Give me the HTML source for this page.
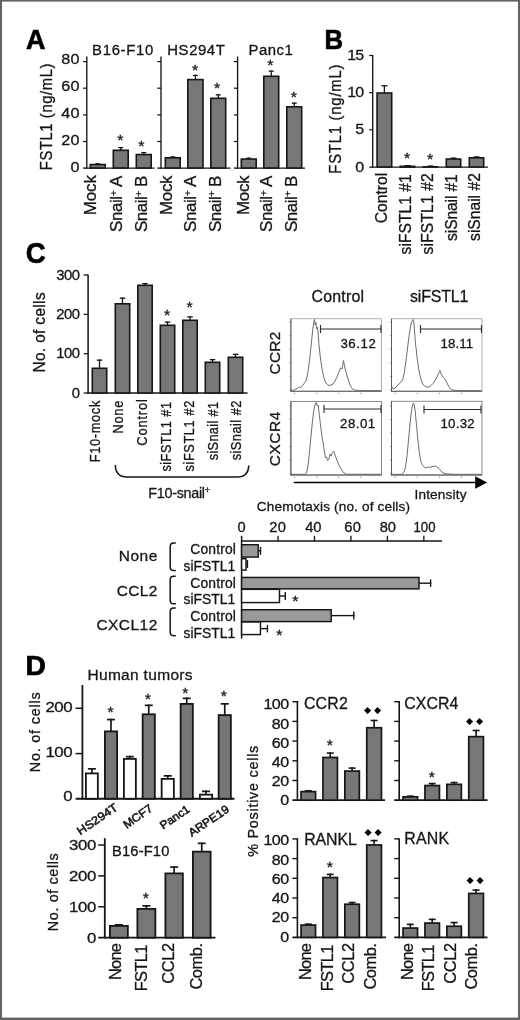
<!DOCTYPE html>
<html lang="en">
<head>
<meta charset="utf-8">
<title>Figure</title>
<style>
html,body{margin:0;padding:0;background:#fff;}
body{width:520px;height:1020px;overflow:hidden;}
svg{display:block;font-family:"Liberation Sans",Arial,Helvetica,sans-serif;}
</style>
</head>
<body>
<svg width="520" height="1020" viewBox="0 0 520 1020">
<rect x="0" y="0" width="520" height="1020" fill="#ffffff"/>
<rect x="0" y="0" width="520" height="1.6" fill="#636363"/>
<rect x="0" y="0" width="2" height="1020" fill="#636363"/>
<rect x="518" y="0" width="2" height="1020" fill="#636363"/>
<rect x="0" y="1017.6" width="520" height="2.4" fill="#636363"/>
<text transform="translate(26.05,48.6) scale(0.960,1)" font-size="28.05" font-weight="bold" stroke="#000" stroke-width="0.7" fill="#000">A</text>
<text transform="translate(324.5,48.75) scale(0.914,1)" font-size="28.13" font-weight="bold" stroke="#000" stroke-width="0.7" fill="#000">B</text>
<text transform="translate(25.87,263.2) scale(0.933,1)" font-size="29.51" font-weight="bold" stroke="#000" stroke-width="0.7" fill="#000">C</text>
<text transform="translate(25.43,674.7) scale(1.035,1)" font-size="27.33" font-weight="bold" stroke="#000" stroke-width="0.7" fill="#000">D</text>
<line x1="86.8" y1="56.5" x2="86.8" y2="168.7" stroke="#161616" stroke-width="1.35"/>
<line x1="86.2" y1="168.1" x2="154.5" y2="168.1" stroke="#161616" stroke-width="1.4"/>
<line x1="83.1" y1="61.6" x2="86.8" y2="61.6" stroke="#161616" stroke-width="1.25"/>
<line x1="83.1" y1="88.2" x2="86.8" y2="88.2" stroke="#161616" stroke-width="1.25"/>
<line x1="83.1" y1="114.9" x2="86.8" y2="114.9" stroke="#161616" stroke-width="1.25"/>
<line x1="83.1" y1="141.5" x2="86.8" y2="141.5" stroke="#161616" stroke-width="1.25"/>
<line x1="83.1" y1="168.1" x2="86.8" y2="168.1" stroke="#161616" stroke-width="1.4"/>
<line x1="161" y1="56.5" x2="161" y2="168.7" stroke="#161616" stroke-width="1.35"/>
<line x1="160.4" y1="168.1" x2="230.5" y2="168.1" stroke="#161616" stroke-width="1.4"/>
<line x1="157.3" y1="61.6" x2="161" y2="61.6" stroke="#161616" stroke-width="1.25"/>
<line x1="157.3" y1="88.2" x2="161" y2="88.2" stroke="#161616" stroke-width="1.25"/>
<line x1="157.3" y1="114.9" x2="161" y2="114.9" stroke="#161616" stroke-width="1.25"/>
<line x1="157.3" y1="141.5" x2="161" y2="141.5" stroke="#161616" stroke-width="1.25"/>
<line x1="157.3" y1="168.1" x2="161" y2="168.1" stroke="#161616" stroke-width="1.4"/>
<line x1="237.6" y1="56.5" x2="237.6" y2="168.7" stroke="#161616" stroke-width="1.35"/>
<line x1="237" y1="168.1" x2="305" y2="168.1" stroke="#161616" stroke-width="1.4"/>
<line x1="233.9" y1="61.6" x2="237.6" y2="61.6" stroke="#161616" stroke-width="1.25"/>
<line x1="233.9" y1="88.2" x2="237.6" y2="88.2" stroke="#161616" stroke-width="1.25"/>
<line x1="233.9" y1="114.9" x2="237.6" y2="114.9" stroke="#161616" stroke-width="1.25"/>
<line x1="233.9" y1="141.5" x2="237.6" y2="141.5" stroke="#161616" stroke-width="1.25"/>
<line x1="233.9" y1="168.1" x2="237.6" y2="168.1" stroke="#161616" stroke-width="1.4"/>
<text transform="translate(61.33,64.27) scale(1.070,1)" x="0 8.6" font-size="15.1" fill="#161616" stroke="#161616" stroke-width="0.3">80</text>
<text transform="translate(61.33,91.27) scale(1.070,1)" x="0 8.6" font-size="15.1" fill="#161616" stroke="#161616" stroke-width="0.3">60</text>
<text transform="translate(61.33,118.27) scale(1.070,1)" x="0 8.6" font-size="15.1" fill="#161616" stroke="#161616" stroke-width="0.3">40</text>
<text transform="translate(61.33,145.27) scale(1.070,1)" x="0 8.6" font-size="15.1" fill="#161616" stroke="#161616" stroke-width="0.3">20</text>
<text transform="translate(70.53,172.07) scale(1.070,1)" x="0" font-size="15.1" fill="#161616" stroke="#161616" stroke-width="0.3">0</text>
<text transform="translate(52.3,170.21) rotate(-90) scale(0.930,1)" font-size="15.9" fill="#161616" stroke="#161616" stroke-width="0.3" letter-spacing="0.65">FSTL1 (ng/mL)</text>
<text transform="translate(92.08,55.2) scale(1.000,1)" font-size="14.9" stroke="#161616" stroke-width="0.3" letter-spacing="0.67" fill="#161616">B16-F10</text>
<text transform="translate(167.28,55.2) scale(1.000,1)" font-size="14.9" stroke="#161616" stroke-width="0.3" letter-spacing="0.58" fill="#161616">HS294T</text>
<text transform="translate(248.58,55.2) scale(1.000,1)" font-size="14.9" stroke="#161616" stroke-width="0.3" letter-spacing="0.47" fill="#161616">Panc1</text>
<line x1="97.75" y1="164.25" x2="97.75" y2="163.2" stroke="#161616" stroke-width="1.3"/>
<line x1="95.25" y1="163.85" x2="100.25" y2="163.85" stroke="#161616" stroke-width="1.3"/>
<rect x="90.3" y="164.55" width="14.9" height="3.45" fill="#777777" stroke="#161616" stroke-width="1.6"/>
<line x1="120.75" y1="150" x2="120.75" y2="147" stroke="#161616" stroke-width="1.3"/>
<line x1="118.25" y1="147.65" x2="123.25" y2="147.65" stroke="#161616" stroke-width="1.3"/>
<rect x="113.3" y="150.3" width="14.9" height="17.7" fill="#777777" stroke="#161616" stroke-width="1.6"/>
<text transform="translate(117.25,144.99) scale(1.075,1)" font-size="14.81" stroke="#161616" stroke-width="0.3" fill="#161616">*</text>
<line x1="143.75" y1="154.25" x2="143.75" y2="152" stroke="#161616" stroke-width="1.3"/>
<line x1="141.25" y1="152.65" x2="146.25" y2="152.65" stroke="#161616" stroke-width="1.3"/>
<rect x="136.3" y="154.55" width="14.9" height="13.45" fill="#777777" stroke="#161616" stroke-width="1.6"/>
<text transform="translate(138.25,151.19) scale(1.075,1)" font-size="14.81" stroke="#161616" stroke-width="0.3" fill="#161616">*</text>
<line x1="172.75" y1="157.5" x2="172.75" y2="156.3" stroke="#161616" stroke-width="1.3"/>
<line x1="170.25" y1="156.95" x2="175.25" y2="156.95" stroke="#161616" stroke-width="1.3"/>
<rect x="165.3" y="157.8" width="14.9" height="10.2" fill="#777777" stroke="#161616" stroke-width="1.6"/>
<line x1="195.4" y1="79.3" x2="195.4" y2="74.8" stroke="#161616" stroke-width="1.3"/>
<line x1="192.9" y1="75.45" x2="197.9" y2="75.45" stroke="#161616" stroke-width="1.3"/>
<rect x="187.8" y="79.6" width="15.2" height="88.4" fill="#777777" stroke="#161616" stroke-width="1.6"/>
<text transform="translate(191.9,74.99) scale(1.075,1)" font-size="14.81" stroke="#161616" stroke-width="0.3" fill="#161616">*</text>
<line x1="218.25" y1="98" x2="218.25" y2="94.2" stroke="#161616" stroke-width="1.3"/>
<line x1="215.75" y1="94.85" x2="220.75" y2="94.85" stroke="#161616" stroke-width="1.3"/>
<rect x="210.8" y="98.3" width="14.9" height="69.7" fill="#777777" stroke="#161616" stroke-width="1.6"/>
<text transform="translate(213.95,93.09) scale(1.075,1)" font-size="14.81" stroke="#161616" stroke-width="0.3" fill="#161616">*</text>
<line x1="248.75" y1="158.75" x2="248.75" y2="157.6" stroke="#161616" stroke-width="1.3"/>
<line x1="246.25" y1="158.25" x2="251.25" y2="158.25" stroke="#161616" stroke-width="1.3"/>
<rect x="241.3" y="159.05" width="14.9" height="8.95" fill="#777777" stroke="#161616" stroke-width="1.6"/>
<line x1="271.25" y1="76" x2="271.25" y2="70.5" stroke="#161616" stroke-width="1.3"/>
<line x1="268.75" y1="71.15" x2="273.75" y2="71.15" stroke="#161616" stroke-width="1.3"/>
<rect x="263.8" y="76.3" width="14.9" height="91.7" fill="#777777" stroke="#161616" stroke-width="1.6"/>
<text transform="translate(267.25,70.49) scale(1.075,1)" font-size="14.81" stroke="#161616" stroke-width="0.3" fill="#161616">*</text>
<line x1="294.25" y1="106.5" x2="294.25" y2="102.5" stroke="#161616" stroke-width="1.3"/>
<line x1="291.75" y1="103.15" x2="296.75" y2="103.15" stroke="#161616" stroke-width="1.3"/>
<rect x="286.8" y="106.8" width="14.9" height="61.2" fill="#777777" stroke="#161616" stroke-width="1.6"/>
<text transform="translate(290.75,101.99) scale(1.075,1)" font-size="14.81" stroke="#161616" stroke-width="0.3" fill="#161616">*</text>
<text transform="translate(96.45,215.14) rotate(-90) scale(1.060,1)" font-size="16" fill="#161616" stroke="#161616" stroke-width="0.3" letter-spacing="-0.13">Mock</text>
<text transform="translate(121.95,232.01) rotate(-90) scale(1.060,1)" font-size="16" fill="#161616" stroke="#161616" stroke-width="0.3" letter-spacing="-0.36">Snail<tspan font-size="9.92" dy="-5.28">+</tspan><tspan dy="5.28"> A</tspan></text>
<text transform="translate(147.2,232.01) rotate(-90) scale(1.060,1)" font-size="16" fill="#161616" stroke="#161616" stroke-width="0.3" letter-spacing="-0.47">Snail<tspan font-size="9.92" dy="-5.28">+</tspan><tspan dy="5.28"> B</tspan></text>
<text transform="translate(171.7,214.89) rotate(-90) scale(1.060,1)" font-size="16" fill="#161616" stroke="#161616" stroke-width="0.3" letter-spacing="-0.36">Mock</text>
<text transform="translate(196.2,232.01) rotate(-90) scale(1.060,1)" font-size="16" fill="#161616" stroke="#161616" stroke-width="0.3" letter-spacing="-0.36">Snail<tspan font-size="9.92" dy="-5.28">+</tspan><tspan dy="5.28"> A</tspan></text>
<text transform="translate(220.7,232.01) rotate(-90) scale(1.060,1)" font-size="16" fill="#161616" stroke="#161616" stroke-width="0.3" letter-spacing="-0.47">Snail<tspan font-size="9.92" dy="-5.28">+</tspan><tspan dy="5.28"> B</tspan></text>
<text transform="translate(248.7,214.89) rotate(-90) scale(1.060,1)" font-size="16" fill="#161616" stroke="#161616" stroke-width="0.3" letter-spacing="-0.36">Mock</text>
<text transform="translate(272.2,232.01) rotate(-90) scale(1.060,1)" font-size="16" fill="#161616" stroke="#161616" stroke-width="0.3" letter-spacing="-0.36">Snail<tspan font-size="9.92" dy="-5.28">+</tspan><tspan dy="5.28"> A</tspan></text>
<text transform="translate(296.7,232.01) rotate(-90) scale(1.060,1)" font-size="16" fill="#161616" stroke="#161616" stroke-width="0.3" letter-spacing="-0.47">Snail<tspan font-size="9.92" dy="-5.28">+</tspan><tspan dy="5.28"> B</tspan></text>
<line x1="372.7" y1="55" x2="372.7" y2="167.7" stroke="#161616" stroke-width="1.35"/>
<line x1="369.2" y1="167.1" x2="488" y2="167.1" stroke="#161616" stroke-width="1.4"/>
<line x1="369.2" y1="55.5" x2="372.7" y2="55.5" stroke="#161616" stroke-width="1.25"/>
<line x1="369.2" y1="92.7" x2="372.7" y2="92.7" stroke="#161616" stroke-width="1.25"/>
<line x1="369.2" y1="129.8" x2="372.7" y2="129.8" stroke="#161616" stroke-width="1.25"/>
<text transform="translate(347.26,60.17) scale(1.060,1)" x="0 7.64" font-size="15.1" fill="#161616" stroke="#161616" stroke-width="0.3">15</text>
<text transform="translate(347.21,97.37) scale(1.060,1)" x="0 7.64" font-size="15.1" fill="#161616" stroke="#161616" stroke-width="0.3">10</text>
<text transform="translate(355.36,134.47) scale(1.060,1)" x="0" font-size="15.1" fill="#161616" stroke="#161616" stroke-width="0.3">5</text>
<text transform="translate(355.31,171.67) scale(1.060,1)" x="0" font-size="15.1" fill="#161616" stroke="#161616" stroke-width="0.3">0</text>
<text transform="translate(340.6,173.71) rotate(-90) scale(0.930,1)" font-size="15.9" fill="#161616" stroke="#161616" stroke-width="0.3" letter-spacing="0.87">FSTL1 (ng/mL)</text>
<line x1="384.4" y1="92.7" x2="384.4" y2="85.2" stroke="#161616" stroke-width="1.3"/>
<line x1="381.4" y1="85.85" x2="387.4" y2="85.85" stroke="#161616" stroke-width="1.3"/>
<rect x="377.1" y="93" width="14.6" height="74" fill="#777777" stroke="#161616" stroke-width="1.6"/>
<line x1="407.5" y1="166" x2="407.5" y2="165" stroke="#161616" stroke-width="1.3"/>
<line x1="404.5" y1="165.65" x2="410.5" y2="165.65" stroke="#161616" stroke-width="1.3"/>
<rect x="400.3" y="166.3" width="14.4" height="0.7" fill="#777777" stroke="#161616" stroke-width="1.6"/>
<text transform="translate(404,163.09) scale(1.075,1)" font-size="14.81" stroke="#161616" stroke-width="0.3" fill="#161616">*</text>
<line x1="430.5" y1="166.5" x2="430.5" y2="165.5" stroke="#161616" stroke-width="1.3"/>
<line x1="427.5" y1="166.15" x2="433.5" y2="166.15" stroke="#161616" stroke-width="1.3"/>
<rect x="423.3" y="166.8" width="14.4" height="0.2" fill="#777777" stroke="#161616" stroke-width="1.6"/>
<text transform="translate(427,164.29) scale(1.075,1)" font-size="14.81" stroke="#161616" stroke-width="0.3" fill="#161616">*</text>
<line x1="453.5" y1="158.75" x2="453.5" y2="157.5" stroke="#161616" stroke-width="1.3"/>
<line x1="450.5" y1="158.15" x2="456.5" y2="158.15" stroke="#161616" stroke-width="1.3"/>
<rect x="446.3" y="159.05" width="14.4" height="7.95" fill="#777777" stroke="#161616" stroke-width="1.6"/>
<line x1="476.5" y1="157.5" x2="476.5" y2="156.3" stroke="#161616" stroke-width="1.3"/>
<line x1="473.5" y1="156.95" x2="479.5" y2="156.95" stroke="#161616" stroke-width="1.3"/>
<rect x="469.3" y="157.8" width="14.4" height="9.2" fill="#777777" stroke="#161616" stroke-width="1.6"/>
<text transform="translate(387,223.28) rotate(-90) scale(0.980,1)" font-size="15.9" fill="#161616" stroke="#161616" stroke-width="0.3" letter-spacing="0.06">Control</text>
<text transform="translate(411.4,254.42) rotate(-90) scale(0.980,1)" font-size="15.9" fill="#161616" stroke="#161616" stroke-width="0.3" letter-spacing="0.06">siFSTL1 #1</text>
<text transform="translate(433.4,254.42) rotate(-90) scale(0.980,1)" font-size="15.9" fill="#161616" stroke="#161616" stroke-width="0.3" letter-spacing="0.17">siFSTL1 #2</text>
<text transform="translate(456.5,240.92) rotate(-90) scale(0.980,1)" font-size="15.9" fill="#161616" stroke="#161616" stroke-width="0.3" letter-spacing="-0.1">siSnail #1</text>
<text transform="translate(479.5,240.92) rotate(-90) scale(0.980,1)" font-size="15.9" fill="#161616" stroke="#161616" stroke-width="0.3" letter-spacing="0.02">siSnail #2</text>
<line x1="88.1" y1="274.4" x2="88.1" y2="393.7" stroke="#161616" stroke-width="1.5"/>
<line x1="87.4" y1="393" x2="247.5" y2="393" stroke="#161616" stroke-width="1.5"/>
<line x1="83.7" y1="275" x2="88" y2="275" stroke="#161616" stroke-width="1.3"/>
<line x1="83.7" y1="314.4" x2="88" y2="314.4" stroke="#161616" stroke-width="1.3"/>
<line x1="83.7" y1="353.7" x2="88" y2="353.7" stroke="#161616" stroke-width="1.3"/>
<line x1="83.7" y1="393" x2="88" y2="393" stroke="#161616" stroke-width="1.3"/>
<text transform="translate(56.31,279.59) scale(1.060,1)" x="0 7.26 14.53" font-size="14" fill="#161616" stroke="#161616" stroke-width="0.3">300</text>
<text transform="translate(56.31,318.99) scale(1.060,1)" x="0 7.26 14.53" font-size="14" fill="#161616" stroke="#161616" stroke-width="0.3">200</text>
<text transform="translate(56.31,358.29) scale(1.060,1)" x="0 7.26 14.53" font-size="14" fill="#161616" stroke="#161616" stroke-width="0.3">100</text>
<text transform="translate(71.71,397.59) scale(1.060,1)" x="0" font-size="14" fill="#161616" stroke="#161616" stroke-width="0.3">0</text>
<text transform="translate(45.2,372.57) rotate(-90) scale(0.930,1)" font-size="16.6" fill="#161616" stroke="#161616" stroke-width="0.3" letter-spacing="0.38">No. of cells</text>
<line x1="99.5" y1="368" x2="99.5" y2="359.5" stroke="#161616" stroke-width="1.3"/>
<line x1="96.75" y1="360.15" x2="102.25" y2="360.15" stroke="#161616" stroke-width="1.3"/>
<rect x="92.3" y="368.3" width="14.4" height="24.7" fill="#777777" stroke="#161616" stroke-width="1.6"/>
<line x1="122.5" y1="303.5" x2="122.5" y2="297.5" stroke="#161616" stroke-width="1.3"/>
<line x1="119.75" y1="298.15" x2="125.25" y2="298.15" stroke="#161616" stroke-width="1.3"/>
<rect x="115.3" y="303.8" width="14.4" height="89.2" fill="#777777" stroke="#161616" stroke-width="1.6"/>
<line x1="145" y1="285" x2="145" y2="283" stroke="#161616" stroke-width="1.3"/>
<line x1="142.25" y1="283.65" x2="147.75" y2="283.65" stroke="#161616" stroke-width="1.3"/>
<rect x="137.8" y="285.3" width="14.4" height="107.7" fill="#777777" stroke="#161616" stroke-width="1.6"/>
<line x1="167.5" y1="325" x2="167.5" y2="321.5" stroke="#161616" stroke-width="1.3"/>
<line x1="164.75" y1="322.15" x2="170.25" y2="322.15" stroke="#161616" stroke-width="1.3"/>
<rect x="160.3" y="325.3" width="14.4" height="67.7" fill="#777777" stroke="#161616" stroke-width="1.6"/>
<text transform="translate(164,319.89) scale(1.075,1)" font-size="14.81" stroke="#161616" stroke-width="0.3" fill="#161616">*</text>
<line x1="190" y1="320" x2="190" y2="316.25" stroke="#161616" stroke-width="1.3"/>
<line x1="187.25" y1="316.9" x2="192.75" y2="316.9" stroke="#161616" stroke-width="1.3"/>
<rect x="182.8" y="320.3" width="14.4" height="72.7" fill="#777777" stroke="#161616" stroke-width="1.6"/>
<text transform="translate(186.5,312.39) scale(1.075,1)" font-size="14.81" stroke="#161616" stroke-width="0.3" fill="#161616">*</text>
<line x1="212.5" y1="362" x2="212.5" y2="359" stroke="#161616" stroke-width="1.3"/>
<line x1="209.75" y1="359.65" x2="215.25" y2="359.65" stroke="#161616" stroke-width="1.3"/>
<rect x="205.3" y="362.3" width="14.4" height="30.7" fill="#777777" stroke="#161616" stroke-width="1.6"/>
<line x1="235.5" y1="357" x2="235.5" y2="353.75" stroke="#161616" stroke-width="1.3"/>
<line x1="232.75" y1="354.4" x2="238.25" y2="354.4" stroke="#161616" stroke-width="1.3"/>
<rect x="228.3" y="357.3" width="14.4" height="35.7" fill="#777777" stroke="#161616" stroke-width="1.6"/>
<text transform="translate(99.8,462.3) rotate(-90) scale(0.880,1)" font-size="14.5" fill="#161616" stroke="#161616" stroke-width="0.3" letter-spacing="0.8">F10-mock</text>
<text transform="translate(123.4,433.55) rotate(-90) scale(0.880,1)" font-size="14.5" fill="#161616" stroke="#161616" stroke-width="0.3" letter-spacing="0.89">None</text>
<text transform="translate(147,445.64) rotate(-90) scale(0.880,1)" font-size="14.5" fill="#161616" stroke="#161616" stroke-width="0.3" letter-spacing="1.01">Control</text>
<text transform="translate(170.6,471.59) rotate(-90) scale(0.880,1)" font-size="14.5" fill="#161616" stroke="#161616" stroke-width="0.3" letter-spacing="0.56">siFSTL1 #1</text>
<text transform="translate(194.2,471.59) rotate(-90) scale(0.880,1)" font-size="14.5" fill="#161616" stroke="#161616" stroke-width="0.3" letter-spacing="0.72">siFSTL1 #2</text>
<text transform="translate(217.7,460.34) rotate(-90) scale(0.880,1)" font-size="14.5" fill="#161616" stroke="#161616" stroke-width="0.3" letter-spacing="0.4">siSnail #1</text>
<text transform="translate(241.4,460.34) rotate(-90) scale(0.880,1)" font-size="14.5" fill="#161616" stroke="#161616" stroke-width="0.3" letter-spacing="0.56">siSnail #2</text>
<path d="M115.3,465 C115.5,472.5 119,477 127,477 L237.5,477 C245,477 248.5,472.8 248.8,465.5" fill="none" stroke="#161616" stroke-width="1.5"/>
<text transform="translate(148.33,497.6) scale(1.000,1)" font-size="14.3" stroke="#161616" stroke-width="0.3" letter-spacing="-0.26" fill="#161616">F10-snail<tspan font-size="8.87" dy="-4.72">+</tspan></text>
<text transform="translate(311.6,301.9) scale(1.000,1)" font-size="15.9" stroke="#161616" stroke-width="0.3" letter-spacing="0.2" fill="#161616">Control</text>
<text transform="translate(410.07,301.9) scale(1.000,1)" font-size="15.9" stroke="#161616" stroke-width="0.3" letter-spacing="-0.17" fill="#161616">siFSTL1</text>
<text transform="translate(279.6,374.52) rotate(-90) scale(1.000,1)" font-size="15.4" fill="#161616" stroke="#161616" stroke-width="0.3" letter-spacing="0.29">CCR2</text>
<text transform="translate(279.6,466.27) rotate(-90) scale(1.000,1)" font-size="15.4" fill="#161616" stroke="#161616" stroke-width="0.3" letter-spacing="0.63">CXCR4</text>
<rect x="290.9" y="318.75" width="90.6" height="72.5" fill="none" stroke="#9c9c9c" stroke-width="0.8"/>
<line x1="289.6" y1="390.05" x2="291.2" y2="390.05" stroke="#555" stroke-width="0.8"/>
<line x1="289.6" y1="376.45" x2="291.2" y2="376.45" stroke="#555" stroke-width="0.8"/>
<line x1="289.6" y1="362.85" x2="291.2" y2="362.85" stroke="#555" stroke-width="0.8"/>
<line x1="289.6" y1="349.25" x2="291.2" y2="349.25" stroke="#555" stroke-width="0.8"/>
<line x1="289.6" y1="335.65" x2="291.2" y2="335.65" stroke="#555" stroke-width="0.8"/>
<line x1="289.6" y1="322.05" x2="291.2" y2="322.05" stroke="#555" stroke-width="0.8"/>
<line x1="290.9" y1="318.75" x2="290.9" y2="391.65" stroke="#5a5a5a" stroke-width="1"/>
<line x1="290.5" y1="391.25" x2="381.5" y2="391.25" stroke="#5a5a5a" stroke-width="1"/>
<line x1="294.6" y1="392.85" x2="294.6" y2="394.05" stroke="#777" stroke-width="0.9"/>
<line x1="316.7" y1="392.85" x2="316.7" y2="394.05" stroke="#777" stroke-width="0.9"/>
<line x1="338.8" y1="392.85" x2="338.8" y2="394.05" stroke="#777" stroke-width="0.9"/>
<line x1="360.9" y1="392.85" x2="360.9" y2="394.05" stroke="#777" stroke-width="0.9"/>
<rect x="391.5" y="318.75" width="90.5" height="72.5" fill="none" stroke="#9c9c9c" stroke-width="0.8"/>
<line x1="390.2" y1="390.05" x2="391.8" y2="390.05" stroke="#555" stroke-width="0.8"/>
<line x1="390.2" y1="376.45" x2="391.8" y2="376.45" stroke="#555" stroke-width="0.8"/>
<line x1="390.2" y1="362.85" x2="391.8" y2="362.85" stroke="#555" stroke-width="0.8"/>
<line x1="390.2" y1="349.25" x2="391.8" y2="349.25" stroke="#555" stroke-width="0.8"/>
<line x1="390.2" y1="335.65" x2="391.8" y2="335.65" stroke="#555" stroke-width="0.8"/>
<line x1="390.2" y1="322.05" x2="391.8" y2="322.05" stroke="#555" stroke-width="0.8"/>
<line x1="391.5" y1="318.75" x2="391.5" y2="391.65" stroke="#5a5a5a" stroke-width="1"/>
<line x1="391.1" y1="391.25" x2="482" y2="391.25" stroke="#5a5a5a" stroke-width="1"/>
<line x1="395.2" y1="392.85" x2="395.2" y2="394.05" stroke="#777" stroke-width="0.9"/>
<line x1="417.3" y1="392.85" x2="417.3" y2="394.05" stroke="#777" stroke-width="0.9"/>
<line x1="439.4" y1="392.85" x2="439.4" y2="394.05" stroke="#777" stroke-width="0.9"/>
<line x1="461.5" y1="392.85" x2="461.5" y2="394.05" stroke="#777" stroke-width="0.9"/>
<rect x="290.9" y="401.5" width="90.6" height="73.5" fill="none" stroke="#6e6e6e" stroke-width="0.8"/>
<line x1="289.6" y1="473.8" x2="291.2" y2="473.8" stroke="#555" stroke-width="0.8"/>
<line x1="289.6" y1="460.2" x2="291.2" y2="460.2" stroke="#555" stroke-width="0.8"/>
<line x1="289.6" y1="446.6" x2="291.2" y2="446.6" stroke="#555" stroke-width="0.8"/>
<line x1="289.6" y1="433" x2="291.2" y2="433" stroke="#555" stroke-width="0.8"/>
<line x1="289.6" y1="419.4" x2="291.2" y2="419.4" stroke="#555" stroke-width="0.8"/>
<line x1="289.6" y1="405.8" x2="291.2" y2="405.8" stroke="#555" stroke-width="0.8"/>
<line x1="290.9" y1="401.5" x2="290.9" y2="475.4" stroke="#5a5a5a" stroke-width="1"/>
<line x1="290.5" y1="475" x2="381.5" y2="475" stroke="#5a5a5a" stroke-width="1"/>
<line x1="294.6" y1="476.6" x2="294.6" y2="477.8" stroke="#777" stroke-width="0.9"/>
<line x1="316.7" y1="476.6" x2="316.7" y2="477.8" stroke="#777" stroke-width="0.9"/>
<line x1="338.8" y1="476.6" x2="338.8" y2="477.8" stroke="#777" stroke-width="0.9"/>
<line x1="360.9" y1="476.6" x2="360.9" y2="477.8" stroke="#777" stroke-width="0.9"/>
<rect x="391.5" y="401.25" width="90.5" height="73.75" fill="none" stroke="#6e6e6e" stroke-width="0.8"/>
<line x1="390.2" y1="473.8" x2="391.8" y2="473.8" stroke="#555" stroke-width="0.8"/>
<line x1="390.2" y1="460.2" x2="391.8" y2="460.2" stroke="#555" stroke-width="0.8"/>
<line x1="390.2" y1="446.6" x2="391.8" y2="446.6" stroke="#555" stroke-width="0.8"/>
<line x1="390.2" y1="433" x2="391.8" y2="433" stroke="#555" stroke-width="0.8"/>
<line x1="390.2" y1="419.4" x2="391.8" y2="419.4" stroke="#555" stroke-width="0.8"/>
<line x1="390.2" y1="405.8" x2="391.8" y2="405.8" stroke="#555" stroke-width="0.8"/>
<line x1="391.5" y1="401.25" x2="391.5" y2="475.4" stroke="#5a5a5a" stroke-width="1"/>
<line x1="391.1" y1="475" x2="482" y2="475" stroke="#5a5a5a" stroke-width="1"/>
<line x1="395.2" y1="476.6" x2="395.2" y2="477.8" stroke="#777" stroke-width="0.9"/>
<line x1="417.3" y1="476.6" x2="417.3" y2="477.8" stroke="#777" stroke-width="0.9"/>
<line x1="439.4" y1="476.6" x2="439.4" y2="477.8" stroke="#777" stroke-width="0.9"/>
<line x1="461.5" y1="476.6" x2="461.5" y2="477.8" stroke="#777" stroke-width="0.9"/>
<line x1="320.5" y1="329" x2="381" y2="329" stroke="#2e2e2e" stroke-width="1.15"/>
<line x1="320.5" y1="325" x2="320.5" y2="333" stroke="#2e2e2e" stroke-width="1.15"/>
<line x1="381" y1="325" x2="381" y2="333" stroke="#2e2e2e" stroke-width="1.15"/>
<line x1="420.5" y1="329" x2="481.5" y2="329" stroke="#2e2e2e" stroke-width="1.15"/>
<line x1="420.5" y1="325" x2="420.5" y2="333" stroke="#2e2e2e" stroke-width="1.15"/>
<line x1="481.5" y1="325" x2="481.5" y2="333" stroke="#2e2e2e" stroke-width="1.15"/>
<line x1="324" y1="409" x2="381" y2="409" stroke="#2e2e2e" stroke-width="1.15"/>
<line x1="324" y1="405" x2="324" y2="413" stroke="#2e2e2e" stroke-width="1.15"/>
<line x1="381" y1="405" x2="381" y2="413" stroke="#2e2e2e" stroke-width="1.15"/>
<line x1="424" y1="409.5" x2="481" y2="409.5" stroke="#2e2e2e" stroke-width="1.15"/>
<line x1="424" y1="405.5" x2="424" y2="413.5" stroke="#2e2e2e" stroke-width="1.15"/>
<line x1="481" y1="405.5" x2="481" y2="413.5" stroke="#2e2e2e" stroke-width="1.15"/>
<text transform="translate(340.39,348.4) scale(1.000,1)" font-size="13.3" stroke="#161616" stroke-width="0.3" letter-spacing="0.57" fill="#161616">36.12</text>
<text transform="translate(440.49,348.3) scale(1.000,1)" font-size="13.3" stroke="#161616" stroke-width="0.3" letter-spacing="0.09" fill="#161616">18.11</text>
<text transform="translate(340.03,428) scale(1.000,1)" font-size="13.3" stroke="#161616" stroke-width="0.3" letter-spacing="0.46" fill="#161616">28.01</text>
<text transform="translate(440.49,428) scale(1.000,1)" font-size="13.3" stroke="#161616" stroke-width="0.3" letter-spacing="0.22" fill="#161616">10.32</text>
<path d="M291,390.5 L294,390 L297,388.5 L299.5,387 L301,387.5 L303,385 L306,381 L307.8,373 L309.6,360 L311.4,343 L312.7,330 L313.8,322 L314.5,319.3 L315.2,325 L315.9,322.5 L316.6,329 L317.3,327 L318.1,333 L319,345 L320.4,358 L322.2,370 L324,378 L325.8,383 L329,385.5 L331,385 L333,384 L335,381 L337,377 L339,372 L340.5,368 L342,369 L343.5,360.5 L344.5,366 L346,372 L348,379 L350,385 L352,388.5 L355,390.3 L365,390.6 L381,390.6" fill="none" stroke="#6e6e6e" stroke-width="1" stroke-linejoin="round"/>
<path d="M392,387 L393,389 L395,388 L398,385 L402.7,380 L404.4,372 L406.1,360 L407.9,345 L409.6,332 L411.3,323 L412.6,320.5 L413.2,319.4 L413.9,323 L414.7,333 L415.6,345 L416.1,348 L416.9,356 L418.2,366 L419.9,375 L421.6,381 L423.3,385 L427,387.3 L429,387 L431,385.5 L433,383.5 L435,380.5 L437,377 L439,372.5 L440,370.5 L441,374 L442.5,376 L443.5,377.5 L445,379 L447,383 L449,387 L451,389.5 L454,390.4 L465,390.6 L481.5,390.6" fill="none" stroke="#6e6e6e" stroke-width="1" stroke-linejoin="round"/>
<path d="M291,474.3 L305,474.3 L306.5,473 L308,466 L309.5,452 L311,436 L312.5,421 L314,409 L315.5,403 L316.3,402.4 L317.3,406 L318.2,405 L319,412 L320.5,425 L322,437 L323.5,445 L324.5,452 L325.5,458 L326.5,457 L327.5,460.5 L329,459 L330,454 L331,456 L332.5,452.5 L333.7,451 L335,455 L336.5,459 L338,463 L340,467 L342,470.5 L344,473 L346.5,474.2 L381,474.3" fill="none" stroke="#6e6e6e" stroke-width="1" stroke-linejoin="round"/>
<path d="M392,474.3 L402,474.3 L404,472 L405.5,467 L407,456 L408.5,440 L410,424 L411.5,411 L412.7,404.5 L413.5,403 L414.3,405 L415.3,412 L416.5,425 L418,441 L419.5,454 L421,462 L422.5,465.5 L424,467 L426,468 L428,467 L430,467.5 L432,466.5 L434,466.2 L435.5,466 L437,467 L439,468.5 L441,471 L443,472.8 L446,473.8 L455,474.3 L481.5,474.3" fill="none" stroke="#6e6e6e" stroke-width="1" stroke-linejoin="round"/>
<line x1="293.75" y1="482.5" x2="477" y2="482.5" stroke="#000" stroke-width="1.6"/>
<polygon points="475.2,476.2 487.2,482.5 475.2,488.8" fill="#000"/>
<text transform="translate(414.45,499.2) scale(1.000,1)" font-size="13.6" stroke="#161616" stroke-width="0.3" letter-spacing="0.18" fill="#161616">Intensity</text>
<text transform="translate(256.82,511.15) scale(1.000,1)" font-size="13.6" stroke="#161616" stroke-width="0.3" letter-spacing="0.15" fill="#161616">Chemotaxis (no. of cells)</text>
<line x1="241.6" y1="535.8" x2="241.6" y2="638.6" stroke="#161616" stroke-width="1.5"/>
<line x1="240.9" y1="541.1" x2="442" y2="541.1" stroke="#161616" stroke-width="1.5"/>
<line x1="278.05" y1="535.8" x2="278.05" y2="541.5" stroke="#161616" stroke-width="1.3"/>
<line x1="314.5" y1="535.8" x2="314.5" y2="541.5" stroke="#161616" stroke-width="1.3"/>
<line x1="350.95" y1="535.8" x2="350.95" y2="541.5" stroke="#161616" stroke-width="1.3"/>
<line x1="387.4" y1="535.8" x2="387.4" y2="541.5" stroke="#161616" stroke-width="1.3"/>
<line x1="423.85" y1="535.8" x2="423.85" y2="541.5" stroke="#161616" stroke-width="1.3"/>
<text transform="translate(237.43,532.3) scale(1.022,1)" font-size="14.3" stroke="#161616" stroke-width="0.3" fill="#161616">0</text>
<text transform="translate(269.26,532.3) scale(1.030,1)" font-size="14.3" stroke="#161616" stroke-width="0.3" letter-spacing="0.41" fill="#161616">20</text>
<text transform="translate(305.18,532.3) scale(1.030,1)" font-size="14.3" stroke="#161616" stroke-width="0.3" letter-spacing="-0.09" fill="#161616">40</text>
<text transform="translate(344.26,532.3) scale(1.030,1)" font-size="14.3" stroke="#161616" stroke-width="0.3" letter-spacing="0.41" fill="#161616">60</text>
<text transform="translate(379.87,532.3) scale(1.030,1)" font-size="14.3" stroke="#161616" stroke-width="0.3" letter-spacing="-0.18" fill="#161616">80</text>
<text transform="translate(413.5,532.3) scale(0.923,1)" font-size="14.3" stroke="#161616" stroke-width="0.3" fill="#161616">100</text>
<line x1="257.5" y1="550.8" x2="261.2" y2="550.8" stroke="#161616" stroke-width="1.4"/>
<line x1="260.5" y1="546.8" x2="260.5" y2="554.8" stroke="#161616" stroke-width="1.4"/>
<rect x="241.6" y="544.73" width="16.57" height="12.35" fill="#999999" stroke="#161616" stroke-width="1.45"/>
<line x1="245.5" y1="564" x2="248.1" y2="564" stroke="#161616" stroke-width="1.4"/>
<line x1="247.4" y1="560" x2="247.4" y2="568" stroke="#161616" stroke-width="1.4"/>
<rect x="241.6" y="558.73" width="4.37" height="11.35" fill="#fff" stroke="#161616" stroke-width="1.45"/>
<line x1="419" y1="583.2" x2="431.3" y2="583.2" stroke="#161616" stroke-width="1.4"/>
<line x1="430.6" y1="579.45" x2="430.6" y2="586.95" stroke="#161616" stroke-width="1.4"/>
<rect x="241.6" y="577.43" width="177.38" height="11.45" fill="#999999" stroke="#161616" stroke-width="1.45"/>
<line x1="279" y1="596" x2="286" y2="596" stroke="#161616" stroke-width="1.4"/>
<line x1="285.3" y1="592" x2="285.3" y2="600" stroke="#161616" stroke-width="1.4"/>
<rect x="241.6" y="589.33" width="37.87" height="13.25" fill="#fff" stroke="#161616" stroke-width="1.45"/>
<line x1="331" y1="615.6" x2="354.5" y2="615.6" stroke="#161616" stroke-width="1.4"/>
<line x1="353.8" y1="611.6" x2="353.8" y2="619.6" stroke="#161616" stroke-width="1.4"/>
<rect x="241.6" y="609.73" width="89.57" height="11.85" fill="#999999" stroke="#161616" stroke-width="1.45"/>
<line x1="260" y1="628.6" x2="268.1" y2="628.6" stroke="#161616" stroke-width="1.4"/>
<line x1="267.4" y1="624.85" x2="267.4" y2="632.35" stroke="#161616" stroke-width="1.4"/>
<rect x="241.6" y="622.02" width="18.87" height="12.55" fill="#fff" stroke="#161616" stroke-width="1.45"/>
<text transform="translate(292.3,606.19) scale(1.075,1)" font-size="14.81" stroke="#161616" stroke-width="0.3" fill="#161616">*</text>
<text transform="translate(276.15,639.99) scale(1.075,1)" font-size="14.81" stroke="#161616" stroke-width="0.3" fill="#161616">*</text>
<text transform="translate(118.63,561.3) scale(1.000,1)" font-size="15.5" stroke="#161616" stroke-width="0.3" letter-spacing="0.57" fill="#161616">None</text>
<text transform="translate(116.72,595.7) scale(1.000,1)" font-size="15.5" stroke="#161616" stroke-width="0.3" letter-spacing="0.31" fill="#161616">CCL2</text>
<text transform="translate(96.42,630.1) scale(1.000,1)" font-size="15.5" stroke="#161616" stroke-width="0.3" letter-spacing="0.45" fill="#161616">CXCL12</text>
<text transform="translate(190.21,554.4) scale(1.000,1)" font-size="13.9" stroke="#161616" stroke-width="0.3" letter-spacing="0.15" fill="#161616">Control</text>
<text transform="translate(190.21,587.5) scale(1.000,1)" font-size="13.9" stroke="#161616" stroke-width="0.3" letter-spacing="0.15" fill="#161616">Control</text>
<text transform="translate(190.21,621.3) scale(1.000,1)" font-size="13.9" stroke="#161616" stroke-width="0.3" letter-spacing="0.15" fill="#161616">Control</text>
<text transform="translate(183.62,570.6) scale(1.000,1)" font-size="13.9" stroke="#161616" stroke-width="0.3" letter-spacing="-0.02" fill="#161616">siFSTL1</text>
<text transform="translate(183.62,604.2) scale(1.000,1)" font-size="13.9" stroke="#161616" stroke-width="0.3" letter-spacing="-0.02" fill="#161616">siFSTL1</text>
<text transform="translate(183.62,638.3) scale(1.000,1)" font-size="13.9" stroke="#161616" stroke-width="0.3" letter-spacing="-0.02" fill="#161616">siFSTL1</text>
<path d="M175.8,543 L173.6,543 Q170.2,543 170.2,546.6 L170.2,566.9 Q170.2,570.5 173.6,570.5 L175.8,570.5" fill="none" stroke="#161616" stroke-width="1.5"/>
<path d="M175.8,576.2 L173.6,576.2 Q170.2,576.2 170.2,579.8 L170.2,600.2 Q170.2,603.8 173.6,603.8 L175.8,603.8" fill="none" stroke="#161616" stroke-width="1.5"/>
<path d="M175.8,608 L173.6,608 Q170.2,608 170.2,611.6 L170.2,632.1 Q170.2,635.7 173.6,635.7 L175.8,635.7" fill="none" stroke="#161616" stroke-width="1.5"/>
<text transform="translate(87.43,679.85) scale(1.000,1)" font-size="15.5" stroke="#161616" stroke-width="0.3" letter-spacing="0.32" fill="#161616">Human tumors</text>
<line x1="82.4" y1="685" x2="82.4" y2="799.65" stroke="#161616" stroke-width="1.8"/>
<line x1="75.6" y1="798.75" x2="234.5" y2="798.75" stroke="#161616" stroke-width="1.8"/>
<line x1="75.6" y1="708.3" x2="82.4" y2="708.3" stroke="#161616" stroke-width="1.5"/>
<line x1="75.6" y1="753.6" x2="82.4" y2="753.6" stroke="#161616" stroke-width="1.5"/>
<text transform="translate(45.46,712.07) scale(1.140,1)" x="0 7.81 15.61" font-size="14.8" fill="#161616" stroke="#161616" stroke-width="0.3">200</text>
<text transform="translate(45.46,757.07) scale(1.140,1)" x="0 7.81 15.61" font-size="14.8" fill="#161616" stroke="#161616" stroke-width="0.3">100</text>
<text transform="translate(63.26,800.97) scale(1.140,1)" x="0" font-size="14.8" fill="#161616" stroke="#161616" stroke-width="0.3">0</text>
<text transform="translate(40,772.27) rotate(-90) scale(0.930,1)" font-size="15.4" fill="#161616" stroke="#161616" stroke-width="0.3" letter-spacing="0.9">No. of cells</text>
<line x1="91.88" y1="773" x2="91.88" y2="768" stroke="#161616" stroke-width="1.7"/>
<line x1="87.88" y1="768.85" x2="95.88" y2="768.85" stroke="#161616" stroke-width="1.7"/>
<rect x="85.9" y="773.4" width="11.95" height="25.35" fill="#fff" stroke="#161616" stroke-width="1.8"/>
<line x1="111" y1="731" x2="111" y2="718.75" stroke="#161616" stroke-width="1.7"/>
<line x1="107" y1="719.6" x2="115" y2="719.6" stroke="#161616" stroke-width="1.7"/>
<rect x="104.9" y="731.4" width="12.2" height="67.35" fill="#777777" stroke="#161616" stroke-width="1.8"/>
<text transform="translate(107.5,716.89) scale(1.075,1)" font-size="14.81" stroke="#161616" stroke-width="0.3" fill="#161616">*</text>
<line x1="129.88" y1="758.5" x2="129.88" y2="755.8" stroke="#161616" stroke-width="1.7"/>
<line x1="125.88" y1="756.65" x2="133.88" y2="756.65" stroke="#161616" stroke-width="1.7"/>
<rect x="123.9" y="758.9" width="11.95" height="39.85" fill="#fff" stroke="#161616" stroke-width="1.8"/>
<line x1="148.75" y1="713.9" x2="148.75" y2="704.5" stroke="#161616" stroke-width="1.7"/>
<line x1="144.75" y1="705.35" x2="152.75" y2="705.35" stroke="#161616" stroke-width="1.7"/>
<rect x="142.65" y="714.3" width="12.2" height="84.45" fill="#777777" stroke="#161616" stroke-width="1.8"/>
<text transform="translate(144.75,704.19) scale(1.075,1)" font-size="14.81" stroke="#161616" stroke-width="0.3" fill="#161616">*</text>
<line x1="167.75" y1="778.5" x2="167.75" y2="775" stroke="#161616" stroke-width="1.7"/>
<line x1="163.75" y1="775.85" x2="171.75" y2="775.85" stroke="#161616" stroke-width="1.7"/>
<rect x="161.65" y="778.9" width="12.2" height="19.85" fill="#fff" stroke="#161616" stroke-width="1.8"/>
<line x1="186.75" y1="703.5" x2="186.75" y2="697.5" stroke="#161616" stroke-width="1.7"/>
<line x1="182.75" y1="698.35" x2="190.75" y2="698.35" stroke="#161616" stroke-width="1.7"/>
<rect x="180.65" y="703.9" width="12.2" height="94.85" fill="#777777" stroke="#161616" stroke-width="1.8"/>
<text transform="translate(182.25,697.99) scale(1.075,1)" font-size="14.81" stroke="#161616" stroke-width="0.3" fill="#161616">*</text>
<line x1="206" y1="794.25" x2="206" y2="790.5" stroke="#161616" stroke-width="1.7"/>
<line x1="202" y1="791.35" x2="210" y2="791.35" stroke="#161616" stroke-width="1.7"/>
<rect x="199.9" y="794.65" width="12.2" height="4.1" fill="#fff" stroke="#161616" stroke-width="1.8"/>
<line x1="224.75" y1="714.7" x2="224.75" y2="703" stroke="#161616" stroke-width="1.7"/>
<line x1="220.75" y1="703.85" x2="228.75" y2="703.85" stroke="#161616" stroke-width="1.7"/>
<rect x="218.65" y="715.1" width="12.2" height="83.65" fill="#777777" stroke="#161616" stroke-width="1.8"/>
<text transform="translate(220.75,701.09) scale(1.075,1)" font-size="14.81" stroke="#161616" stroke-width="0.3" fill="#161616">*</text>
<text transform="translate(80.34,835.49) rotate(-34.36) scale(1.104,1)" font-size="11.48" fill="#161616" stroke="#161616" stroke-width="0.55">HS294T</text>
<text transform="translate(126.7,829.07) rotate(-35.47) scale(1.049,1)" font-size="11.48" fill="#161616" stroke="#161616" stroke-width="0.55">MCF7</text>
<text transform="translate(163.31,829.74) rotate(-34.44) scale(1.019,1)" font-size="11.48" fill="#161616" stroke="#161616" stroke-width="0.55">Panc1</text>
<text transform="translate(191.78,837.11) rotate(-34.28) scale(1.050,1)" font-size="11.48" fill="#161616" stroke="#161616" stroke-width="0.55">ARPE19</text>
<line x1="104.8" y1="838.2" x2="104.8" y2="938.6" stroke="#161616" stroke-width="1.8"/>
<line x1="98.2" y1="937.7" x2="215.5" y2="937.7" stroke="#161616" stroke-width="1.8"/>
<line x1="98.2" y1="845" x2="104.8" y2="845" stroke="#161616" stroke-width="1.5"/>
<line x1="98.2" y1="875.9" x2="104.8" y2="875.9" stroke="#161616" stroke-width="1.5"/>
<line x1="98.2" y1="906.8" x2="104.8" y2="906.8" stroke="#161616" stroke-width="1.5"/>
<text transform="translate(69.12,850.43) scale(1.140,1)" x="0 7.81 15.61" font-size="14.7" fill="#161616" stroke="#161616" stroke-width="0.3">300</text>
<text transform="translate(69.12,881.33) scale(1.140,1)" x="0 7.81 15.61" font-size="14.7" fill="#161616" stroke="#161616" stroke-width="0.3">200</text>
<text transform="translate(69.12,912.23) scale(1.140,1)" x="0 7.81 15.61" font-size="14.7" fill="#161616" stroke="#161616" stroke-width="0.3">100</text>
<text transform="translate(86.92,943.13) scale(1.140,1)" x="0" font-size="14.7" fill="#161616" stroke="#161616" stroke-width="0.3">0</text>
<text transform="translate(58.2,931.17) rotate(-90) scale(0.930,1)" font-size="15.4" fill="#161616" stroke="#161616" stroke-width="0.3" letter-spacing="0.69">No. of cells</text>
<text transform="translate(112.09,855.7) scale(1.000,1)" font-size="14.7" stroke="#161616" stroke-width="0.3" letter-spacing="0.15" fill="#161616">B16-F10</text>
<line x1="118.88" y1="925.5" x2="118.88" y2="924" stroke="#161616" stroke-width="1.7"/>
<line x1="114.88" y1="924.85" x2="122.88" y2="924.85" stroke="#161616" stroke-width="1.7"/>
<rect x="109.9" y="925.9" width="17.95" height="11.8" fill="#777777" stroke="#161616" stroke-width="1.8"/>
<line x1="146.38" y1="908.5" x2="146.38" y2="905" stroke="#161616" stroke-width="1.7"/>
<line x1="142.38" y1="905.85" x2="150.38" y2="905.85" stroke="#161616" stroke-width="1.7"/>
<rect x="137.4" y="908.9" width="17.95" height="28.8" fill="#777777" stroke="#161616" stroke-width="1.8"/>
<text transform="translate(142.87,902.99) scale(1.075,1)" font-size="14.81" stroke="#161616" stroke-width="0.3" fill="#161616">*</text>
<line x1="174.12" y1="873" x2="174.12" y2="866.25" stroke="#161616" stroke-width="1.7"/>
<line x1="170.12" y1="867.1" x2="178.12" y2="867.1" stroke="#161616" stroke-width="1.7"/>
<rect x="165.4" y="873.4" width="17.45" height="64.3" fill="#777777" stroke="#161616" stroke-width="1.8"/>
<line x1="201.75" y1="851.25" x2="201.75" y2="842.5" stroke="#161616" stroke-width="1.7"/>
<line x1="197.75" y1="843.35" x2="205.75" y2="843.35" stroke="#161616" stroke-width="1.7"/>
<rect x="192.9" y="851.65" width="17.7" height="86.05" fill="#777777" stroke="#161616" stroke-width="1.8"/>
<text transform="translate(120.65,980.09) rotate(-90) scale(1.050,1)" font-size="15.6" fill="#161616" stroke="#161616" stroke-width="0.3" letter-spacing="-0.66">None</text>
<text transform="translate(147.4,991.34) rotate(-90) scale(1.050,1)" font-size="15.6" fill="#161616" stroke="#161616" stroke-width="0.3" letter-spacing="-0.6">FSTL1</text>
<text transform="translate(174.4,983.82) rotate(-90) scale(1.050,1)" font-size="15.6" fill="#161616" stroke="#161616" stroke-width="0.3" letter-spacing="-0.32">CCL2</text>
<text transform="translate(201.9,989.57) rotate(-90) scale(1.050,1)" font-size="15.6" fill="#161616" stroke="#161616" stroke-width="0.3" letter-spacing="-0.4">Comb.</text>
<text transform="translate(258,856.75) rotate(-90) scale(0.930,1)" font-size="15.4" fill="#161616" stroke="#161616" stroke-width="0.3" letter-spacing="0.83">% Positive cells</text>
<line x1="297.4" y1="701" x2="297.4" y2="801" stroke="#161616" stroke-width="1.6"/>
<line x1="292.4" y1="800.2" x2="385" y2="800.2" stroke="#161616" stroke-width="1.7"/>
<line x1="292.4" y1="701.7" x2="297.4" y2="701.7" stroke="#161616" stroke-width="1.4"/>
<line x1="292.4" y1="721.4" x2="297.4" y2="721.4" stroke="#161616" stroke-width="1.4"/>
<line x1="292.4" y1="741.1" x2="297.4" y2="741.1" stroke="#161616" stroke-width="1.4"/>
<line x1="292.4" y1="760.8" x2="297.4" y2="760.8" stroke="#161616" stroke-width="1.4"/>
<line x1="292.4" y1="780.5" x2="297.4" y2="780.5" stroke="#161616" stroke-width="1.4"/>
<text transform="translate(263.4,709.29) scale(1.120,1)" x="0 7.5 15" font-size="14.3" fill="#161616" stroke="#161616" stroke-width="0.3">100</text>
<text transform="translate(271.8,728.52) scale(1.120,1)" x="0 7.5" font-size="14.3" fill="#161616" stroke="#161616" stroke-width="0.3">80</text>
<text transform="translate(271.8,747.75) scale(1.120,1)" x="0 7.5" font-size="14.3" fill="#161616" stroke="#161616" stroke-width="0.3">60</text>
<text transform="translate(271.8,766.98) scale(1.120,1)" x="0 7.5" font-size="14.3" fill="#161616" stroke="#161616" stroke-width="0.3">40</text>
<text transform="translate(271.8,786.21) scale(1.120,1)" x="0 7.5" font-size="14.3" fill="#161616" stroke="#161616" stroke-width="0.3">20</text>
<text transform="translate(280.2,805.44) scale(1.120,1)" x="0" font-size="14.3" fill="#161616" stroke="#161616" stroke-width="0.3">0</text>
<text transform="translate(303.9,708.6) scale(1.000,1)" font-size="15.9" stroke="#161616" stroke-width="0.3" letter-spacing="0.2" fill="#161616">CCR2</text>
<line x1="308.3" y1="791.3" x2="308.3" y2="790" stroke="#161616" stroke-width="1.6"/>
<line x1="304.8" y1="790.8" x2="311.8" y2="790.8" stroke="#161616" stroke-width="1.6"/>
<rect x="301.05" y="791.65" width="14.5" height="8.55" fill="#777777" stroke="#161616" stroke-width="1.7"/>
<line x1="330.2" y1="757.1" x2="330.2" y2="752.3" stroke="#161616" stroke-width="1.6"/>
<line x1="326.7" y1="753.1" x2="333.7" y2="753.1" stroke="#161616" stroke-width="1.6"/>
<rect x="322.95" y="757.45" width="14.5" height="42.75" fill="#777777" stroke="#161616" stroke-width="1.7"/>
<text transform="translate(326.7,750.49) scale(1.075,1)" font-size="14.81" stroke="#161616" stroke-width="0.3" fill="#161616">*</text>
<line x1="352.1" y1="770.7" x2="352.1" y2="767.3" stroke="#161616" stroke-width="1.6"/>
<line x1="348.6" y1="768.1" x2="355.6" y2="768.1" stroke="#161616" stroke-width="1.6"/>
<rect x="344.85" y="771.05" width="14.5" height="29.15" fill="#777777" stroke="#161616" stroke-width="1.7"/>
<line x1="374.1" y1="727.4" x2="374.1" y2="719.7" stroke="#161616" stroke-width="1.6"/>
<line x1="370.6" y1="720.5" x2="377.6" y2="720.5" stroke="#161616" stroke-width="1.6"/>
<rect x="366.75" y="727.75" width="14.7" height="72.45" fill="#777777" stroke="#161616" stroke-width="1.7"/>
<text transform="translate(363.88,712.71) scale(1.001,1)" font-size="9.27" font-family="DejaVu Sans, sans-serif" fill="#000">◆</text>
<text transform="translate(373.98,712.71) scale(1.001,1)" font-size="9.27" font-family="DejaVu Sans, sans-serif" fill="#000">◆</text>
<line x1="399.2" y1="701" x2="399.2" y2="801" stroke="#161616" stroke-width="1.6"/>
<line x1="394.2" y1="800.2" x2="487.5" y2="800.2" stroke="#161616" stroke-width="1.7"/>
<line x1="394.2" y1="701.7" x2="399.2" y2="701.7" stroke="#161616" stroke-width="1.4"/>
<line x1="394.2" y1="721.4" x2="399.2" y2="721.4" stroke="#161616" stroke-width="1.4"/>
<line x1="394.2" y1="741.1" x2="399.2" y2="741.1" stroke="#161616" stroke-width="1.4"/>
<line x1="394.2" y1="760.8" x2="399.2" y2="760.8" stroke="#161616" stroke-width="1.4"/>
<line x1="394.2" y1="780.5" x2="399.2" y2="780.5" stroke="#161616" stroke-width="1.4"/>
<text transform="translate(404.2,708.6) scale(1.000,1)" font-size="15.9" stroke="#161616" stroke-width="0.3" letter-spacing="0.09" fill="#161616">CXCR4</text>
<line x1="410.3" y1="796.5" x2="410.3" y2="795.4" stroke="#161616" stroke-width="1.6"/>
<line x1="406.8" y1="796.2" x2="413.8" y2="796.2" stroke="#161616" stroke-width="1.6"/>
<rect x="403.05" y="796.85" width="14.5" height="3.35" fill="#777777" stroke="#161616" stroke-width="1.7"/>
<line x1="432.2" y1="785.2" x2="432.2" y2="782.8" stroke="#161616" stroke-width="1.6"/>
<line x1="428.7" y1="783.6" x2="435.7" y2="783.6" stroke="#161616" stroke-width="1.6"/>
<rect x="424.95" y="785.55" width="14.5" height="14.65" fill="#777777" stroke="#161616" stroke-width="1.7"/>
<text transform="translate(428.7,781.79) scale(1.075,1)" font-size="14.81" stroke="#161616" stroke-width="0.3" fill="#161616">*</text>
<line x1="454.1" y1="784" x2="454.1" y2="781.8" stroke="#161616" stroke-width="1.6"/>
<line x1="450.6" y1="782.6" x2="457.6" y2="782.6" stroke="#161616" stroke-width="1.6"/>
<rect x="446.85" y="784.35" width="14.5" height="15.85" fill="#777777" stroke="#161616" stroke-width="1.7"/>
<line x1="476.1" y1="736.3" x2="476.1" y2="729.7" stroke="#161616" stroke-width="1.6"/>
<line x1="472.6" y1="730.5" x2="479.6" y2="730.5" stroke="#161616" stroke-width="1.6"/>
<rect x="468.75" y="736.65" width="14.7" height="63.55" fill="#777777" stroke="#161616" stroke-width="1.7"/>
<text transform="translate(465.88,723.81) scale(1.001,1)" font-size="9.27" font-family="DejaVu Sans, sans-serif" fill="#000">◆</text>
<text transform="translate(475.98,723.81) scale(1.001,1)" font-size="9.27" font-family="DejaVu Sans, sans-serif" fill="#000">◆</text>
<line x1="297.4" y1="838.2" x2="297.4" y2="938.2" stroke="#161616" stroke-width="1.6"/>
<line x1="292.4" y1="937.4" x2="386" y2="937.4" stroke="#161616" stroke-width="1.7"/>
<line x1="292.4" y1="838.9" x2="297.4" y2="838.9" stroke="#161616" stroke-width="1.4"/>
<line x1="292.4" y1="858.6" x2="297.4" y2="858.6" stroke="#161616" stroke-width="1.4"/>
<line x1="292.4" y1="878.3" x2="297.4" y2="878.3" stroke="#161616" stroke-width="1.4"/>
<line x1="292.4" y1="898" x2="297.4" y2="898" stroke="#161616" stroke-width="1.4"/>
<line x1="292.4" y1="917.7" x2="297.4" y2="917.7" stroke="#161616" stroke-width="1.4"/>
<text transform="translate(263.4,845.44) scale(1.120,1)" x="0 7.5 15" font-size="14.3" fill="#161616" stroke="#161616" stroke-width="0.3">100</text>
<text transform="translate(271.8,864.67) scale(1.120,1)" x="0 7.5" font-size="14.3" fill="#161616" stroke="#161616" stroke-width="0.3">80</text>
<text transform="translate(271.8,883.9) scale(1.120,1)" x="0 7.5" font-size="14.3" fill="#161616" stroke="#161616" stroke-width="0.3">60</text>
<text transform="translate(271.8,903.13) scale(1.120,1)" x="0 7.5" font-size="14.3" fill="#161616" stroke="#161616" stroke-width="0.3">40</text>
<text transform="translate(271.8,922.36) scale(1.120,1)" x="0 7.5" font-size="14.3" fill="#161616" stroke="#161616" stroke-width="0.3">20</text>
<text transform="translate(280.2,941.59) scale(1.120,1)" x="0" font-size="14.3" fill="#161616" stroke="#161616" stroke-width="0.3">0</text>
<text transform="translate(304.2,844.5) scale(1.000,1)" font-size="15.9" stroke="#161616" stroke-width="0.3" letter-spacing="-0.11" fill="#161616">RANKL</text>
<line x1="308.3" y1="924.7" x2="308.3" y2="923.4" stroke="#161616" stroke-width="1.6"/>
<line x1="304.8" y1="924.2" x2="311.8" y2="924.2" stroke="#161616" stroke-width="1.6"/>
<rect x="301.05" y="925.05" width="14.5" height="12.35" fill="#777777" stroke="#161616" stroke-width="1.7"/>
<line x1="330.2" y1="877.2" x2="330.2" y2="873.6" stroke="#161616" stroke-width="1.6"/>
<line x1="326.7" y1="874.4" x2="333.7" y2="874.4" stroke="#161616" stroke-width="1.6"/>
<rect x="322.95" y="877.55" width="14.5" height="59.85" fill="#777777" stroke="#161616" stroke-width="1.7"/>
<text transform="translate(326.7,871.79) scale(1.075,1)" font-size="14.81" stroke="#161616" stroke-width="0.3" fill="#161616">*</text>
<line x1="352.1" y1="903.9" x2="352.1" y2="901.8" stroke="#161616" stroke-width="1.6"/>
<line x1="348.6" y1="902.6" x2="355.6" y2="902.6" stroke="#161616" stroke-width="1.6"/>
<rect x="344.85" y="904.25" width="14.5" height="33.15" fill="#777777" stroke="#161616" stroke-width="1.7"/>
<line x1="374.1" y1="844.6" x2="374.1" y2="839.8" stroke="#161616" stroke-width="1.6"/>
<line x1="370.6" y1="840.6" x2="377.6" y2="840.6" stroke="#161616" stroke-width="1.6"/>
<rect x="366.75" y="844.95" width="14.7" height="92.45" fill="#777777" stroke="#161616" stroke-width="1.7"/>
<text transform="translate(364.38,835.31) scale(1.001,1)" font-size="9.27" font-family="DejaVu Sans, sans-serif" fill="#000">◆</text>
<text transform="translate(374.48,835.31) scale(1.001,1)" font-size="9.27" font-family="DejaVu Sans, sans-serif" fill="#000">◆</text>
<line x1="399.2" y1="838.2" x2="399.2" y2="938.2" stroke="#161616" stroke-width="1.6"/>
<line x1="394.2" y1="937.4" x2="487.5" y2="937.4" stroke="#161616" stroke-width="1.7"/>
<line x1="394.2" y1="838.9" x2="399.2" y2="838.9" stroke="#161616" stroke-width="1.4"/>
<line x1="394.2" y1="858.6" x2="399.2" y2="858.6" stroke="#161616" stroke-width="1.4"/>
<line x1="394.2" y1="878.3" x2="399.2" y2="878.3" stroke="#161616" stroke-width="1.4"/>
<line x1="394.2" y1="898" x2="399.2" y2="898" stroke="#161616" stroke-width="1.4"/>
<line x1="394.2" y1="917.7" x2="399.2" y2="917.7" stroke="#161616" stroke-width="1.4"/>
<text transform="translate(404.2,844.1) scale(1.000,1)" font-size="15.9" stroke="#161616" stroke-width="0.3" letter-spacing="0.27" fill="#161616">RANK</text>
<line x1="410.3" y1="927.7" x2="410.3" y2="923.6" stroke="#161616" stroke-width="1.6"/>
<line x1="406.8" y1="924.4" x2="413.8" y2="924.4" stroke="#161616" stroke-width="1.6"/>
<rect x="403.05" y="928.05" width="14.5" height="9.35" fill="#777777" stroke="#161616" stroke-width="1.7"/>
<line x1="432.2" y1="922.7" x2="432.2" y2="918.6" stroke="#161616" stroke-width="1.6"/>
<line x1="428.7" y1="919.4" x2="435.7" y2="919.4" stroke="#161616" stroke-width="1.6"/>
<rect x="424.95" y="923.05" width="14.5" height="14.35" fill="#777777" stroke="#161616" stroke-width="1.7"/>
<line x1="454.1" y1="925.9" x2="454.1" y2="921.8" stroke="#161616" stroke-width="1.6"/>
<line x1="450.6" y1="922.6" x2="457.6" y2="922.6" stroke="#161616" stroke-width="1.6"/>
<rect x="446.85" y="926.25" width="14.5" height="11.15" fill="#777777" stroke="#161616" stroke-width="1.7"/>
<line x1="476.1" y1="893.1" x2="476.1" y2="889.3" stroke="#161616" stroke-width="1.6"/>
<line x1="472.6" y1="890.1" x2="479.6" y2="890.1" stroke="#161616" stroke-width="1.6"/>
<rect x="468.75" y="893.45" width="14.7" height="43.95" fill="#777777" stroke="#161616" stroke-width="1.7"/>
<text transform="translate(466.38,883.41) scale(1.001,1)" font-size="9.27" font-family="DejaVu Sans, sans-serif" fill="#000">◆</text>
<text transform="translate(476.48,883.41) scale(1.001,1)" font-size="9.27" font-family="DejaVu Sans, sans-serif" fill="#000">◆</text>
<text transform="translate(311.4,980.09) rotate(-90) scale(1.050,1)" font-size="15.6" fill="#161616" stroke="#161616" stroke-width="0.3" letter-spacing="-0.66">None</text>
<text transform="translate(333.15,991.34) rotate(-90) scale(1.050,1)" font-size="15.6" fill="#161616" stroke="#161616" stroke-width="0.3" letter-spacing="-0.6">FSTL1</text>
<text transform="translate(354.4,983.82) rotate(-90) scale(1.050,1)" font-size="15.6" fill="#161616" stroke="#161616" stroke-width="0.3" letter-spacing="-0.32">CCL2</text>
<text transform="translate(376.4,989.57) rotate(-90) scale(1.050,1)" font-size="15.6" fill="#161616" stroke="#161616" stroke-width="0.3" letter-spacing="-0.4">Comb.</text>
<text transform="translate(413.15,980.09) rotate(-90) scale(1.050,1)" font-size="15.6" fill="#161616" stroke="#161616" stroke-width="0.3" letter-spacing="-0.66">None</text>
<text transform="translate(434.4,991.34) rotate(-90) scale(1.050,1)" font-size="15.6" fill="#161616" stroke="#161616" stroke-width="0.3" letter-spacing="-0.6">FSTL1</text>
<text transform="translate(455.65,983.82) rotate(-90) scale(1.050,1)" font-size="15.6" fill="#161616" stroke="#161616" stroke-width="0.3" letter-spacing="-0.32">CCL2</text>
<text transform="translate(476.9,989.57) rotate(-90) scale(1.050,1)" font-size="15.6" fill="#161616" stroke="#161616" stroke-width="0.3" letter-spacing="-0.4">Comb.</text>
</svg>
</body>
</html>
